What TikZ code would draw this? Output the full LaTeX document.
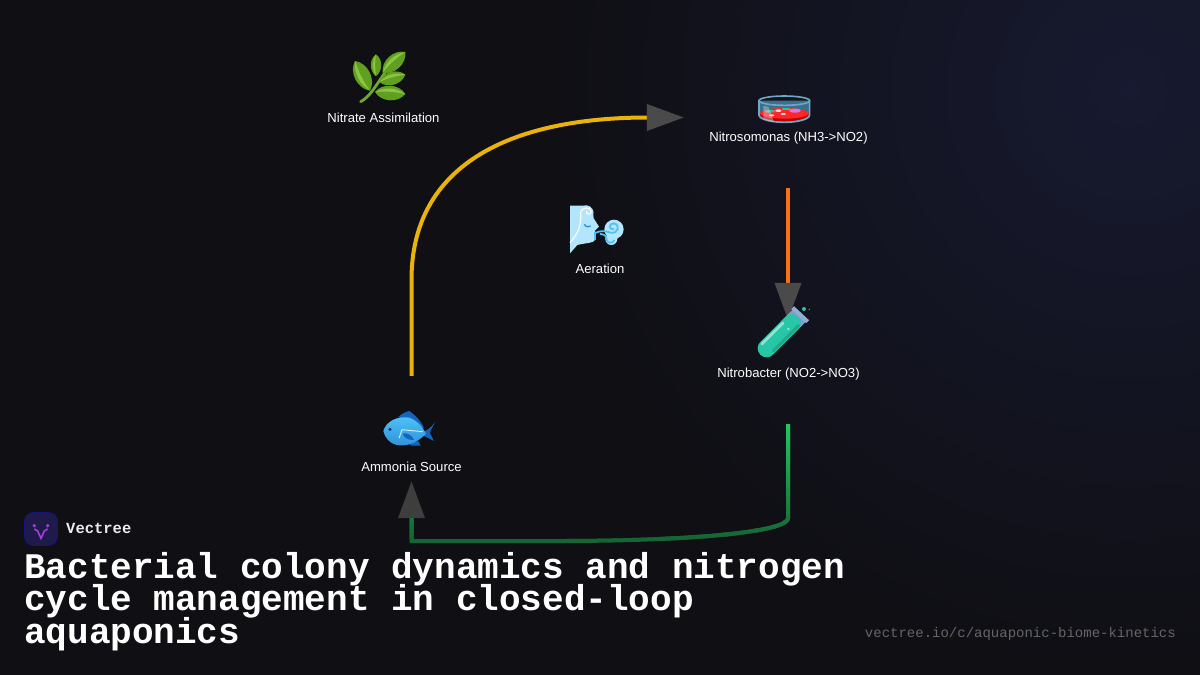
\documentclass[tikz,border=0pt]{standalone}
\usepackage{fontspec}
\setmainfont{Liberation Sans}
\setmonofont{Liberation Mono}
\usetikzlibrary{arrows.meta}
\definecolor{bgdark}{HTML}{0F0F14}
\definecolor{bgblue}{HTML}{171A30}
\definecolor{headgray}{HTML}{4A4A4A}
\definecolor{headback}{HTML}{3E3E3E}
\definecolor{edgeyellow}{HTML}{EAB308}
\definecolor{edgeorange}{HTML}{F97316}
\definecolor{edgegreen}{HTML}{22C55E}
\definecolor{edgedark}{HTML}{166534}
\definecolor{leafdark}{HTML}{619F22}
\definecolor{leaflight}{HTML}{8CC63F}
\definecolor{skyface}{HTML}{B3E5FC}
\definecolor{skywind}{HTML}{4FC3F7}
\definecolor{tealtube}{HTML}{26C6A6}
\definecolor{glass}{HTML}{7E9FC8}
\definecolor{dishwall}{HTML}{6FA8C4}
\definecolor{dishfill}{HTML}{3A6F90}
\definecolor{fishdark}{HTML}{1565C0}
\definecolor{logoback}{HTML}{1E1B4B}
\definecolor{logopurple}{HTML}{A83BDC}
\begin{document}
\begin{tikzpicture}[x=1pt,y=-1pt,hub/.style={minimum width=100pt,inner sep=0pt},caption/.style={text=white,inner sep=0pt,font=\fontsize{13.1}{15}\selectfont},zoomed/.style={x=.3333pt,y=-.3333pt},line/.style={line width=4pt,-{Triangle[length=37pt,width=26pt,color=headgray,fill=headgray]}}]
\useasboundingbox (0,0) rectangle (1200,675);
\begin{scope}
\clip (0,0) rectangle (1200,675);
\fill[bgdark] (0,0) rectangle (1200,675);
\shade[inner color=bgblue,outer color=bgdark] (1130,90) ellipse (580 and 580);
\end{scope}
\node[hub,minimum height=105pt] (ammonia) at (411.5,428.5) {};
\node[hub,minimum height=141pt,minimum width=208pt] (nitrosomonas) at (788,117.5) {};
\node[hub,minimum height=104pt] (nitrobacter) at (788,372) {};
\draw[line,edgeyellow] (ammonia.north) -- ++(0,-96) .. controls (411.5,165) and (510,117.5) .. (nitrosomonas.west);
\draw[line,edgeorange] (nitrosomonas.south) -- (nitrobacter.north);
\draw[line,edgedark,-{Triangle[length=37pt,width=26pt,color=headback,fill=headback]}] (nitrobacter.south) -- ++(0,94) .. controls (788,532) and (690,541) .. (560,541) -- (411.5,541) -- (ammonia.south);
\foreach \band in {0,...,28}{
\begin{scope}
\clip (380,424+4*\band) rectangle (800,428+4*\band);
\pgfmathsetmacro\mixgreen{100-100*\band/28}
\draw[line width=4pt,shorten >=37pt,edgegreen!\mixgreen!edgedark] (nitrobacter.south) -- ++(0,94) .. controls (788,532) and (690,541) .. (560,541) -- (411.5,541) -- (ammonia.south);
\end{scope}
}
\begin{scope}[shift={(320,40)},zoomed]
\draw[leafdark!70!leaflight,line width=2.8pt,line cap=round] (122,185) .. controls (150,170) and (165,140) .. (195,98);
\foreach \bx/\by/\tx/\ty in {150/152/105/63,168/108/168/43,188/98/256/36,178/126/256/104,165/156/256/162}{
\fill[leafdark] (\bx,\by) to[bend left=55] (\tx,\ty) to[bend left=55] (\bx,\by);
\fill[leaflight] (\bx,\by) to[bend left=30] (\tx,\ty) to[bend right=8] (\bx,\by);
}
\end{scope}
\begin{scope}[shift={(700,80)},zoomed]
\fill[dishfill] (176,62) -- (176,105) arc[start angle=180,end angle=0,x radius=77,y radius=22] -- (330,62) -- cycle;
\fill[red!75!black] (180,98) -- (180,104) arc[start angle=180,end angle=0,x radius=73,y radius=20] -- (326,98) -- cycle;
\fill[red!85!white] (253,100) ellipse (73 and 16);
\fill[tealtube] (210,94) ellipse (16 and 4);
\fill[tealtube] (258,87) ellipse (14 and 3);
\fill[violet!45!magenta!55!white] (285,92) ellipse (18 and 6);
\fill[white!85!red] (235,92) ellipse (9 and 4) (250,102) ellipse (8 and 3) (215,106) ellipse (8 and 3);
\draw[dishwall,line width=1.6pt] (253,62) ellipse (76 and 14);
\draw[dishwall,line width=1.6pt] (177,62) -- (177,105) arc[start angle=180,end angle=0,x radius=76,y radius=22] -- (329,62);
\fill[white,opacity=.3] (190,78) -- (205,80) -- (222,126) -- (190,118) -- cycle;
\end{scope}
\begin{scope}[shift={(550,190)},zoomed]
\fill[skyface] (60,47) -- (100,47) .. controls (110,42) and (135,50) .. (130,75) -- (131,85) -- (147,110) -- (135,122) -- (135,150) .. controls (130,160) and (110,158) .. (82,165) -- (60,190) -- cycle;
\draw[white,line width=1.1pt] (60,158) .. controls (85,130) and (95,105) .. (92,70) .. controls (92,50) and (125,48) .. (124,66) .. controls (122,76) and (106,74) .. (110,62);
\draw[skywind!50!fishdark,line width=1.4pt] (103,103) .. controls (108,112) and (116,112) .. (122,108);
\fill[skyface] (192,118) circle (29) (184,147) circle (18);
\draw[skywind,line width=1.8pt] (138,128) .. controls (150,122) and (165,122) .. (182,128) .. controls (205,132) and (212,105) .. (192,100) .. controls (175,100) and (175,120) .. (192,118);
\draw[skywind,line width=1.8pt] (150,132) .. controls (165,132) and (170,140) .. (170,150) .. controls (172,160) and (190,162) .. (193,150);
\draw[skywind,line width=1.4pt] (135,125) -- (135,150);
\end{scope}
\begin{scope}[shift={(740,270)},zoomed]
\draw[glass,line width=18pt,line cap=butt] (180,135) -- (140,175);
\draw[tealtube,line width=18pt,line cap=round] (155,160) -- (80,235);
\draw[tealtube!85!black,line width=3pt,line cap=round] (176,167) -- (100,243);
\draw[tealtube!50!white,line width=2.5pt,line cap=round] (66,222) -- (130,158);
\draw[glass!85!white,line width=4pt] (158,113) -- (203,155);
\fill[tealtube] (192,117) circle (6) (208,118) circle (2.2) (175,150) circle (5) (127,198) circle (4);
\fill[white!60!tealtube] (145,177) circle (3.5);
\end{scope}
\begin{scope}[shift={(350,395)},zoomed]
\fill[fishdark] (145,66) .. controls (152,58) and (168,50) .. (178,48) .. controls (195,60) and (215,80) .. (222,100) -- cycle;
\fill[fishdark] (215,112) .. controls (232,108) and (245,95) .. (255,82) .. controls (250,95) and (240,105) .. (240,115) .. controls (242,122) and (250,130) .. (252,138) .. controls (240,132) and (228,125) .. (215,120) -- cycle;
\fill[fishdark] (175,145) -- (205,138) -- (212,152) -- (185,152) -- cycle;
\shade[top color=skywind,bottom color=skywind!45!fishdark] (100,108) .. controls (108,80) and (140,62) .. (178,68) .. controls (205,78) and (220,100) .. (228,116) .. controls (205,140) and (175,156) .. (140,150) .. controls (120,146) and (104,128) .. (100,108) -- cycle;
\fill[fishdark] (158,115) .. controls (172,112) and (188,122) .. (192,135) .. controls (175,136) and (160,128) .. (158,115) -- cycle;
\draw[white!75!skywind,line width=.9pt] (147,130) -- (156,104) -- (218,110);
\fill[fishdark!60!black] (120,103) circle (5.5);
\end{scope}
\node[caption] (assimilation) at (383.5,117.5) {Nitrate Assimilation};
\node[caption] (nitrosomonaslabel) at (788.5,138.5) {Nitrosomonas (NH3->NO2)};
\node[caption] (aeration) at (600,268.5) {Aeration};
\node[caption] (nitrobacterlabel) at (788.5,374.5) {Nitrobacter (NO2->NO3)};
\node[caption] (ammonialabel) at (411.5,466.5) {Ammonia Source};
\node[draw=logoback!70!blue,fill=logoback,line width=.8pt,rounded corners=9pt,minimum size=33pt,inner sep=0pt] (logo) at (41,529) {};
\begin{scope}[shift={(15,505)},zoomed]
\draw[logopurple,line width=1.6pt] (58,72) -- (68,78) -- (78,100) -- (88,78) -- (98,72);
\fill[logopurple] (58,62) circle (5.5) (98,62) circle (5.5);
\end{scope}
\node[right=0pt,inner sep=0pt,text=white!92!black,font=\ttfamily\bfseries\fontsize{15.5}{18}\selectfont] (brand) at (66,528) {Vectree};
\node[anchor=south west,inner sep=0pt,align=left,text=white,font={\ttfamily\bfseries\fontsize{36}{32.4}\selectfont\lineskiplimit=-50pt}] (headline) at (24,651) {Bacterial colony dynamics and nitrogen\\cycle management in closed-loop\\aquaponics};
\node[anchor=east,inner sep=0pt,text=white!40!black,font=\ttfamily\fontsize{14}{16}\selectfont] (link) at (1176,633.5) {vectree.io/c/aquaponic-biome-kinetics};
\end{tikzpicture}
\end{document}
